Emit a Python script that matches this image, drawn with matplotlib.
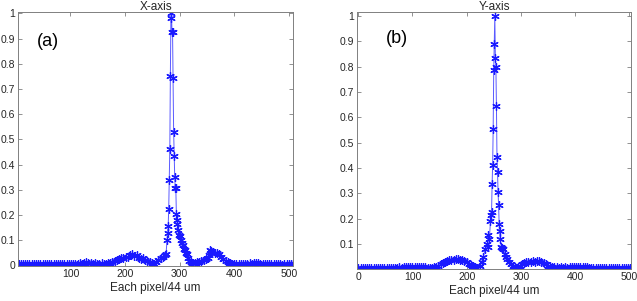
import matplotlib

matplotlib.use("Agg")
import matplotlib.pyplot as plt

# ---- data ----
x_axis_px = [1, 5, 9, 13, 17, 21, 25, 29, 33, 37, 41, 45, 49, 53, 57, 61, 65, 69, 73, 77,
             81, 85, 89, 93, 97, 101, 105, 109, 113, 117, 121, 125, 129, 133, 137, 141, 145,
             149, 153, 157, 161, 165, 169, 173, 177, 181, 185, 189, 193, 197, 201, 205, 209,
             213, 217, 221, 225, 229, 233, 237, 241, 245, 249, 253, 257, 261, 265, 269, 273,
             275, 277, 278, 279, 280, 281, 282, 283, 284, 285, 286, 287, 288, 289, 290, 291,
             292, 293, 294, 295, 296, 297, 298, 300, 302, 304, 306, 308, 310, 312, 314, 316,
             318, 320, 322, 324, 328, 332, 336, 340, 344, 348, 352, 354, 356, 358, 360, 364,
             368, 372, 376, 380, 384, 388, 392, 396, 400, 404, 408, 412, 416, 420, 424, 428,
             432, 436, 440, 444, 448, 452, 456, 460, 464, 468, 472, 476, 480, 484, 488, 492,
             496, 500, 504, 508]
x_axis_val = [0.005, 0.004, 0.006, 0.005, 0.004, 0.006, 0.005, 0.004, 0.005, 0.006, 0.005,
              0.004, 0.006, 0.005, 0.007, 0.005, 0.004, 0.005, 0.006, 0.004, 0.005, 0.006,
              0.005, 0.004, 0.006, 0.005, 0.006, 0.007, 0.006, 0.008, 0.007, 0.009, 0.012,
              0.010, 0.008, 0.007, 0.009, 0.007, 0.006, 0.008, 0.007, 0.006, 0.008, 0.010,
              0.012, 0.018, 0.022, 0.025, 0.028, 0.030, 0.035, 0.032, 0.040, 0.045, 0.038,
              0.042, 0.030, 0.025, 0.028, 0.022, 0.018, 0.012, 0.008, 0.006, 0.012, 0.020,
              0.028, 0.035, 0.040, 0.045, 0.100, 0.130, 0.155, 0.225, 0.340, 0.460, 0.750,
              0.980, 1.000, 0.925, 0.925, 0.745, 0.530, 0.435, 0.350, 0.305, 0.305, 0.205,
              0.180, 0.165, 0.140, 0.120, 0.115, 0.100, 0.090, 0.080, 0.065, 0.060, 0.050,
              0.045, 0.030, 0.018, 0.012, 0.010, 0.008, 0.010, 0.012, 0.014, 0.018, 0.020,
              0.025, 0.030, 0.040, 0.062, 0.055, 0.048, 0.050, 0.048, 0.045, 0.035, 0.025,
              0.018, 0.012, 0.008, 0.005, 0.004, 0.005, 0.006, 0.005, 0.007, 0.006, 0.007,
              0.008, 0.007, 0.009, 0.008, 0.009, 0.007, 0.006, 0.005, 0.006, 0.004, 0.005,
              0.004, 0.005, 0.004, 0.005, 0.003, 0.005, 0.004, 0.006, 0.004, 0.005]

y_axis_px = [0, 4, 8, 12, 16, 20, 24, 28, 32, 36, 40, 44, 48, 52, 56, 60, 64, 68, 72, 76,
             80, 84, 88, 92, 96, 100, 104, 108, 112, 116, 120, 124, 128, 132, 136, 140, 144,
             148, 152, 156, 160, 164, 168, 172, 176, 180, 184, 188, 192, 196, 200, 204, 208,
             212, 216, 220, 224, 228, 231, 234, 237, 239, 240, 242, 244, 245, 246, 247, 248,
             249, 250, 251, 252, 253, 254, 255, 256, 257, 258, 259, 260, 261, 262, 264, 266,
             268, 270, 272, 275, 278, 282, 286, 290, 294, 298, 302, 306, 310, 314, 318, 322,
             326, 330, 334, 338, 342, 346, 350, 354, 358, 362, 366, 370, 374, 378, 382, 386,
             390, 394, 398, 402, 406, 410, 414, 418, 422, 426, 430, 434, 438, 442, 446, 450,
             454, 458, 462, 466, 470, 474, 478, 482, 486, 490, 494, 498, 502]
y_axis_val = [0.005, 0.004, 0.005, 0.004, 0.005, 0.004, 0.005, 0.004, 0.005, 0.004, 0.005,
              0.004, 0.005, 0.006, 0.005, 0.006, 0.007, 0.006, 0.007, 0.008, 0.007, 0.008,
              0.009, 0.008, 0.009, 0.010, 0.009, 0.010, 0.011, 0.010, 0.008, 0.009, 0.007,
              0.006, 0.007, 0.008, 0.010, 0.015, 0.020, 0.025, 0.030, 0.032, 0.035, 0.038,
              0.036, 0.040, 0.042, 0.038, 0.035, 0.032, 0.028, 0.022, 0.018, 0.014, 0.010,
              0.006, 0.012, 0.030, 0.050, 0.080, 0.100, 0.090, 0.135, 0.120, 0.190, 0.215,
              0.225, 0.335, 0.410, 0.555, 0.785, 0.890, 1.000, 0.835, 0.800, 0.645, 0.445,
              0.385, 0.305, 0.255, 0.180, 0.150, 0.120, 0.090, 0.085, 0.080, 0.060, 0.050,
              0.040, 0.030, 0.020, 0.012, 0.008, 0.010, 0.015, 0.020, 0.025, 0.028, 0.030,
              0.028, 0.032, 0.030, 0.034, 0.032, 0.028, 0.025, 0.020, 0.015, 0.012, 0.010,
              0.008, 0.009, 0.007, 0.008, 0.007, 0.008, 0.007, 0.008, 0.009, 0.008, 0.010,
              0.011, 0.010, 0.009, 0.010, 0.008, 0.007, 0.006, 0.007, 0.006, 0.005, 0.006,
              0.005, 0.004, 0.005, 0.004, 0.005, 0.004, 0.005, 0.004, 0.005, 0.004, 0.005,
              0.004, 0.005, 0.004]

x_ticks = [100, 200, 300, 400, 500]
y_ticks_a = [0, 0.1, 0.2, 0.3, 0.4, 0.5, 0.6, 0.7, 0.8, 0.9, 1]
y_ticks_b = [0.1, 0.2, 0.3, 0.4, 0.5, 0.6, 0.7, 0.8, 0.9, 1]

plt.rcParams["font.family"] = ["Liberation Sans", "DejaVu Sans"]

fig = plt.figure(figsize=(6.37, 3.01), dpi=100)
ax_a = fig.add_axes([0.0283, 0.116, 0.432, 0.844])
ax_b = fig.add_axes([0.560, 0.106, 0.431, 0.854])

asterisk = (6, 2, 0)
line_style = dict(color="#5a5aff", linewidth=0.7, marker=asterisk, markersize=6,
                  markeredgewidth=0.9, markeredgecolor="#1a1aff")


def style_axes(ax, title, tag, tag_xy, yticks):
    ax.set_title(title, fontsize=8.5, pad=1.5, color="#262626")
    ax.text(tag_xy[0], tag_xy[1], tag, fontsize=13, ha="left", va="center",
            color="#000000")
    ax.set_yticks(yticks)
    ax.set_yticklabels([f"{v:g}" for v in yticks])
    ax.set_xlabel("Each pixel/44 um", fontsize=8.5, color="#262626", labelpad=2)
    ax.tick_params(direction="in", length=3, width=0.6, labelsize=7.5,
                   colors="#808080", labelcolor="#262626", top=True, right=True, pad=2)
    for spine in ax.spines.values():
        spine.set_color("#808080")
        spine.set_linewidth(0.7)


ax_a.plot(x_axis_px, x_axis_val, **line_style)
ax_a.set_xlim(4, 508)
ax_a.set_ylim(-0.003, 1.005)
ax_a.set_xticks(x_ticks)
style_axes(ax_a, "X-axis", "(a)", (38, 0.89), y_ticks_a)

ax_b.plot(y_axis_px, y_axis_val, **line_style)
ax_b.set_xlim(-3, 504)
ax_b.set_ylim(0.001, 1.015)
ax_b.set_xticks([0] + x_ticks)
style_axes(ax_b, "Y-axis", "(b)", (50, 0.91), y_ticks_b)

fig.savefig("out.png", dpi=100)
